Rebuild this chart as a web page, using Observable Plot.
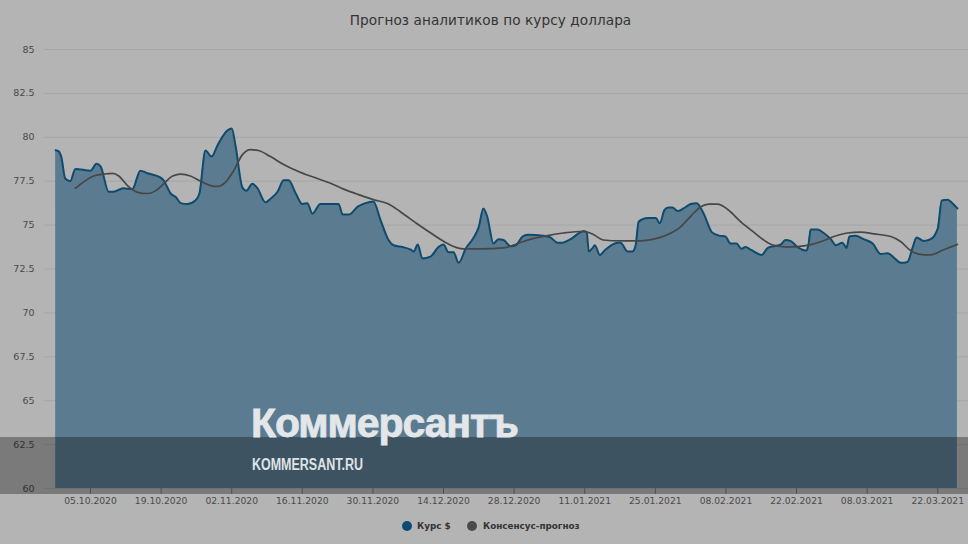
<!DOCTYPE html>
<html><head><meta charset="utf-8">
<script src="https://cdn.jsdelivr.net/npm/d3@7"></script>
<script src="https://cdn.jsdelivr.net/npm/@observablehq/plot@0.6"></script>
<style>
html,body{margin:0;padding:0;background:#b4b4b4;width:968px;height:544px;overflow:hidden;font-family:"DejaVu Sans",sans-serif}
#wrap{position:relative;width:968px;height:544px}
#title{height:40px;line-height:41px;text-align:center;font-size:13.6px;letter-spacing:.09px;color:#333;padding-left:13px;box-sizing:border-box}
#chart svg{display:block;background:transparent}
#band{position:absolute;left:0;top:437px;width:968px;height:57px;background:rgba(0,0,0,.32)}
#logo{position:absolute;left:251px;top:398px;font:bold 41px/50px "Liberation Sans",sans-serif;letter-spacing:-1.1px;color:#e3e7ea;-webkit-text-stroke:.8px #e3e7ea}
#site{position:absolute;left:252px;top:456px;font:bold 16px/18px "Liberation Sans",sans-serif;color:#dfe3e6;transform-origin:left;transform:scaleX(.78)}
#legend{position:absolute;top:518px;left:0;width:968px;height:16px;font-size:8.8px;font-weight:bold;color:#333}
#legend i{position:absolute;top:3px;width:10px;height:10px;border-radius:50%}
#legend span{position:absolute;top:1px;line-height:14px}
</style></head><body>
<div id="wrap">
<div id="title">Прогноз аналитиков по курсу доллара</div>
<div id="chart"></div>
<div id="band"></div>
<div id="logo">Коммерсантъ</div>
<div id="site">KOMMERSANT.RU</div>
<div id="legend"><i style="left:402px;background:#0d4c72"></i><span style="left:417px">Курс $</span><i style="left:467px;background:#4a4a4a"></i><span style="left:483px">Консенсус-прогноз</span></div>
</div>
<script>
const baseDate = Date.UTC(2020, 9, 5);
const yTicks = [60, 62.5, 65, 67.5, 70, 72.5, 75, 77.5, 80, 82.5, 85];
const xTickLabels = ["2020-10-05","2020-10-19","2020-11-02","2020-11-16","2020-11-30","2020-12-14","2020-12-28","2021-01-11","2021-01-25","2021-02-08","2021-02-22","2021-03-08","2021-03-22"];
// days since 05.10.2020
const kursDays = [-6.9,-6.3,-5.8,-5,-4,-3,0,1.2,2,3.6,4.6,6.5,8.3,9.9,11.3,13.9,14.5,15.9,16.9,17.9,19.2,20.8,21.6,22.8,24,25.2,27.2,28,28.8,30.1,30.9,32.1,33.1,34.7,35.7,37.1,38.3,39.3,40.7,42,43,44,45.6,47.6,49.2,50,51.2,53,54.5,56.1,57.5,59.1,60.1,61.9,63.5,64.1,64.9,65.8,67.4,69,70,71,72,73,74.4,76,77,77.9,78.7,79.9,80.9,81.9,83.3,84.3,85.7,86.7,89.8,91.2,92.6,93.6,95.2,97.8,98.4,98.8,99.6,100,101,102.1,104.5,105.1,106.5,107.5,108.1,108.7,110.5,112.1,112.9,113.8,114.6,115.4,116.4,117.6,119,120.2,121.6,123.2,124.6,125.9,126.9,128.1,129.1,129.9,130.9,133.1,134.3,135.5,136.9,137.8,138.8,140.2,142,142.4,142.8,144.2,145.4,146.8,147.8,149.1,149.9,150.5,151.7,153.3,155.1,156.7,158.1,159.3,160.7,162,163,163.8,165.2,166.6,168,168.8,170,170.9,171.9];
const kursValues = [79.26,79.2,78.9,77.65,77.5,78.2,78.1,78.5,78.35,76.9,76.9,77.1,77.05,78.1,77.95,77.7,77.55,76.8,76.6,76.25,76.2,76.4,76.8,79.25,78.9,79.55,80.4,80.5,79.45,77.15,76.95,77.35,77.1,76.3,76.5,76.9,77.55,77.55,76.8,76.2,76.25,75.65,76.2,76.2,76.2,75.6,75.6,76.05,76.25,76.35,75.3,74.15,73.85,73.75,73.6,73.5,73.9,73.1,73.2,73.75,73.9,73.45,73.45,72.85,73.65,74.3,74.9,75.95,75.45,73.95,74.2,74.15,73.8,73.85,74.35,74.45,74.4,74.3,74,74,74.2,74.65,74.6,73.5,73.7,73.85,73.3,73.6,74,74,73.5,73.5,73.85,75.2,75.4,75.4,75.1,75.85,76,76,75.8,75.95,76.2,76.25,75.65,74.6,74.4,74.35,73.95,73.95,73.65,73.75,73.6,73.3,73.7,73.8,73.9,74.15,74.1,73.75,73.55,73.95,74.75,74.75,74.55,74.2,73.85,74,73.7,74.35,74.4,74.2,73.95,73.35,73.4,73.15,72.85,72.9,73.7,74.3,74.1,74.2,74.8,76.4,76.45,76.25,75.95];
const consDays = [-3,-1.4,0.6,2.6,4.4,5.6,7.5,9.5,11.3,12.9,14.5,16.3,17.9,19.8,21.8,23.8,25.2,26.8,28.4,30.1,31.7,33.3,35.7,38.3,41.7,45,47.6,50.2,53,56.1,59.1,61.5,64.9,68,70.8,72.8,74,77.4,81.9,84.7,87.3,90.6,93.8,97.8,99.8,101.7,105.1,109.1,111.7,114.4,117,119,121,122.6,124.4,126.3,128.9,131.5,134.3,135.5,138.2,142.2,144.8,147.4,150.1,152.7,155.3,158.7,160.7,162.6,164.2,166.6,169.2,171.9];
const consValues = [77.1,77.45,77.8,77.9,77.95,77.8,77.2,76.85,76.8,76.95,77.35,77.8,77.9,77.8,77.5,77.25,77.2,77.45,78.1,79,79.3,79.25,78.9,78.45,78,77.65,77.38,77.05,76.75,76.45,76.2,75.75,75.05,74.45,73.95,73.7,73.65,73.65,73.7,73.95,74.2,74.4,74.55,74.65,74.45,74.15,74.1,74.1,74.2,74.45,74.9,75.5,76.05,76.2,76.2,75.9,75.2,74.6,74,73.85,73.75,73.85,74.05,74.35,74.55,74.6,74.5,74.35,74.05,73.55,73.35,73.3,73.6,73.9];

const toDate = d => new Date(baseDate + d * 864e5);
const kurs = kursDays.map((d, i) => ({date: toDate(d), value: kursValues[i]}));
const cons = consDays.map((d, i) => ({date: toDate(d), value: consValues[i]}));

const plot = Plot.plot({
  width: 968, height: 470,
  marginLeft: 44, marginRight: 0, marginTop: 9, marginBottom: 22,
  style: {background: "transparent", fontFamily: "'DejaVu Sans',sans-serif", fontSize: "9.5px", color: "#4a4a4a"},
  x: {type: "utc", domain: [toDate(-9.12), toDate(174.1)]},
  y: {domain: [60, 85]},
  marks: [
    Plot.ruleY(yTicks, {stroke: "#a6a6a6", strokeWidth: 1}),
    Plot.axisY({ticks: yTicks, tickSize: 0, tickPadding: 10, label: null, tickFormat: d => String(d), fontSize: 9.5}),
    Plot.axisX({ticks: xTickLabels.map(s => new Date(s)), tickFormat: d3.utcFormat("%d.%m.%Y"), tickSize: 6, tickPadding: 3, label: null, stroke: "#777", fontSize: 9.2}),
    Plot.areaY(kurs, {x: "date", y1: 60, y2: "value", fill: "#5a7b90", curve: "monotone-x"}),
    Plot.lineY(kurs, {x: "date", y: "value", stroke: "#0f4b6e", strokeWidth: 2, curve: "monotone-x"}),
    Plot.lineY(cons, {x: "date", y: "value", stroke: "#474747", strokeWidth: 1.7, curve: "monotone-x"})
  ]
});
document.getElementById("chart").append(plot);
</script>
</body></html>
